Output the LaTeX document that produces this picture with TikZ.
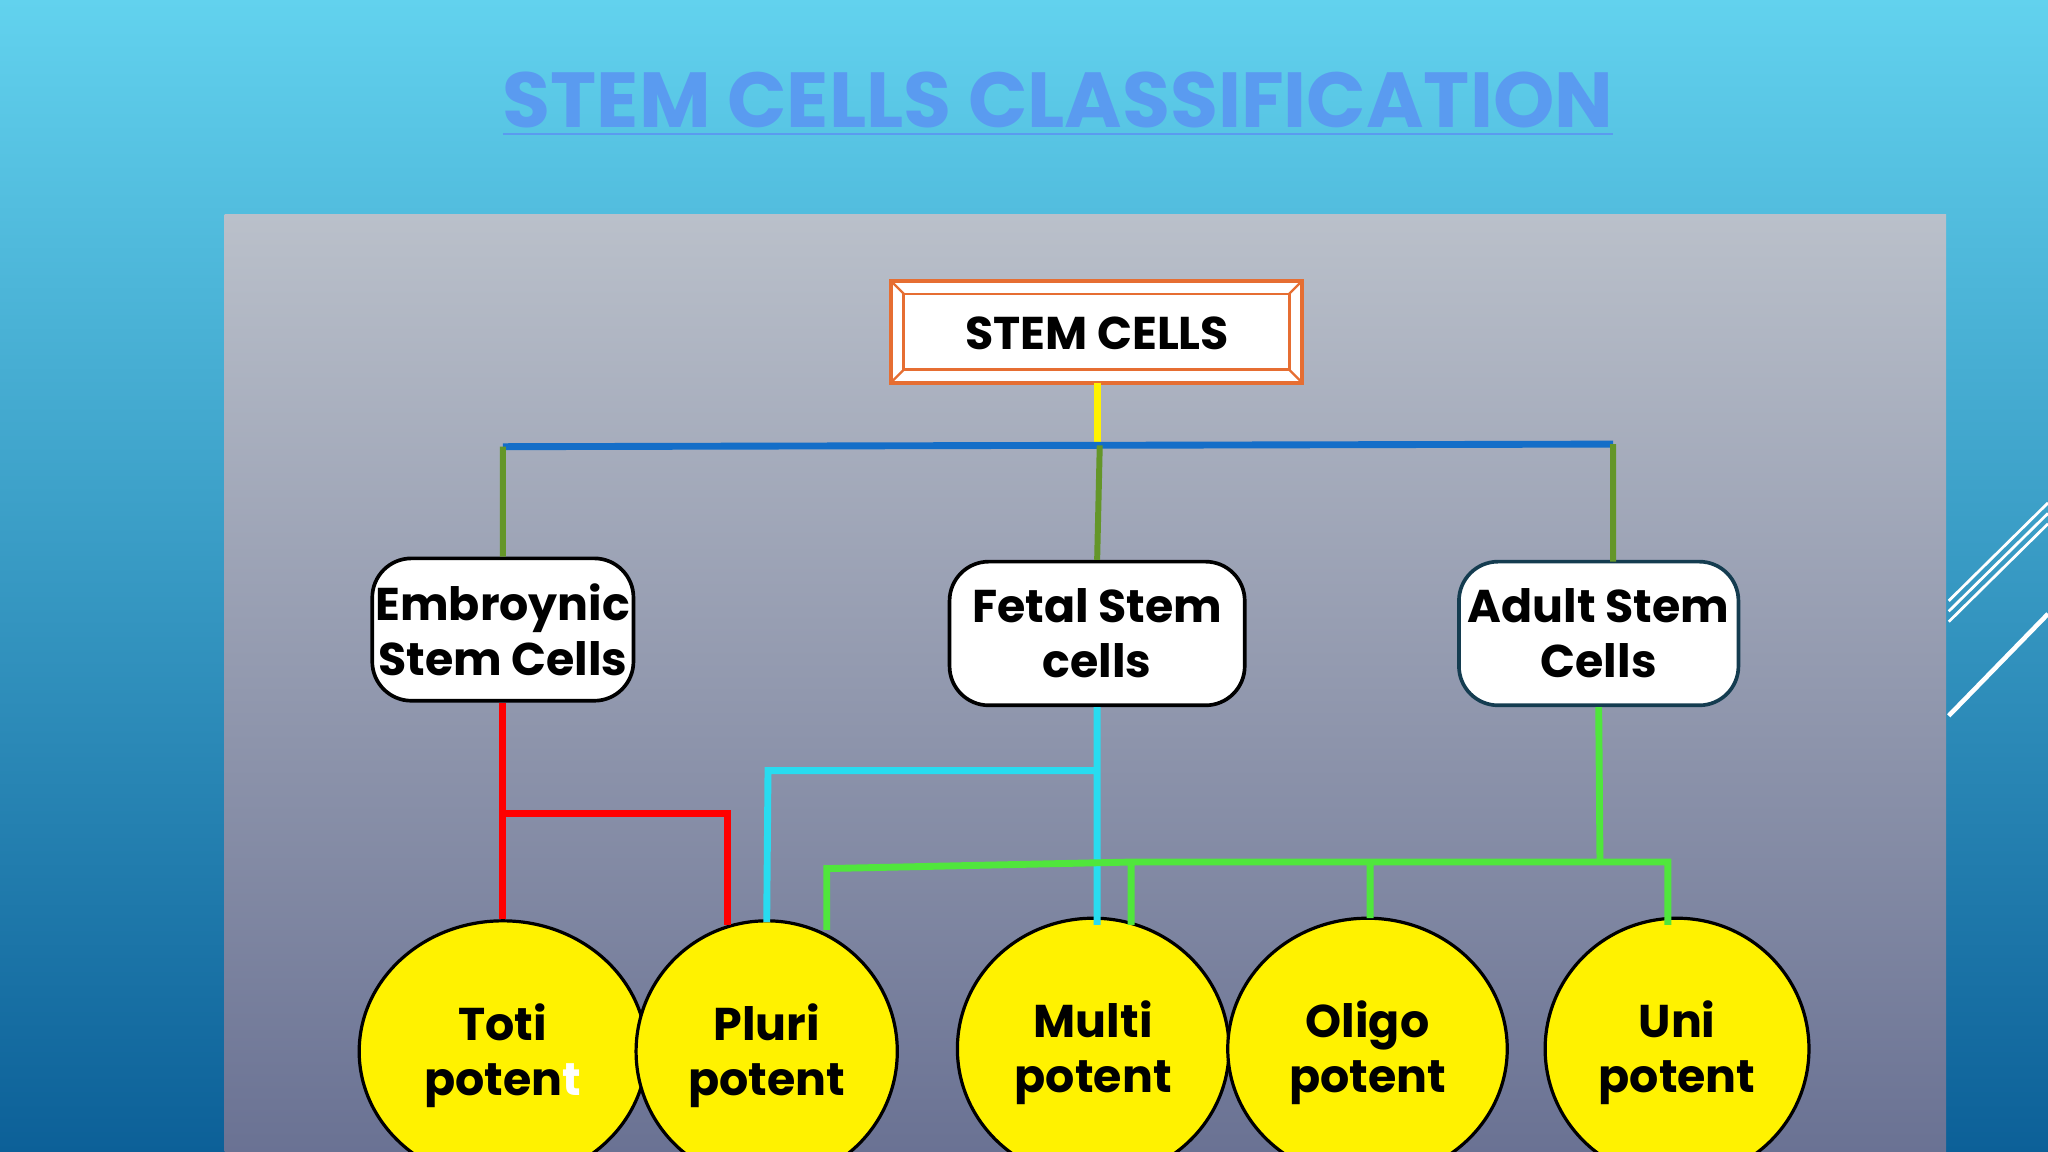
\documentclass[tikz,border=0pt]{standalone}
\usepackage{fontspec}
\setmainfont{Poppins}
\usetikzlibrary{shapes.geometric}
\definecolor{cblue}{RGB}{20,110,200}
\definecolor{colive}{RGB}{100,150,40}
\definecolor{ccyan}{RGB}{40,220,240}
\definecolor{cgreen}{RGB}{80,230,60}
\definecolor{corange}{RGB}{230,110,50}
\definecolor{ctitle}{RGB}{90,155,240}
\definecolor{cteal}{RGB}{20,60,80}
\begin{document}
\begin{tikzpicture}[x=0.1mm,y=-0.1mm,
  box/.style={draw=black,fill=white,rounded corners=3mm,line width=0.8pt,align=center,font=\fontsize{10}{12}\selectfont\bfseries,inner sep=0pt},
  cell/.style={draw=black,fill=yellow,line width=0.7pt},
  lab/.style={align=center,font=\fontsize{10}{12}\selectfont\bfseries}]
\useasboundingbox (0,0) rectangle (1568,882);
\clip (0,0) rectangle (1568,882);
\shade[top color={rgb,255:red,98;green,210;blue,238},bottom color={rgb,255:red,12;green,96;blue,152}] (0,0) rectangle (1568,882);
\foreach \d in {0,8,16}{\draw[white,line width=0.6pt] (1492,460+\d) -- (1568,385+\d);}
\draw[white,line width=1pt] (1492,548) -- (1568,470);
\node[font=\fontsize{17}{20}\selectfont\bfseries,text=ctitle] (title) at (810,80) {\underline{STEM CELLS CLASSIFICATION}};
\shade[top color={rgb,255:red,186;green,192;blue,202},bottom color={rgb,255:red,104;green,112;blue,146}] (172,164) rectangle (1490,900);
\draw[draw=corange,fill=white,line width=0.8pt] (682,215) rectangle (997,293);
\draw[draw=corange,line width=0.6pt] (692,225) rectangle (987,283);
\foreach \a/\b in {682/692,997/987}{\draw[draw=corange,line width=0.5pt] (\a,215)--(\b,225) (\a,293)--(\b,283);}
\node[lab] (stem) at (840,255) {STEM CELLS};
\coordinate (sb) at (840,293);
\node[box,minimum width=20mm,minimum height=10.9mm] (emb) at (385,482) {Embroynic\\Stem Cells};
\node[box,minimum width=22.6mm,minimum height=11mm] (fet) at (840,485) {Fetal Stem\\cells};
\node[box,draw=cteal,minimum width=21.4mm,minimum height=11mm] (adu) at (1224,485) {Adult Stem\\Cells};
\node[cell,ellipse,minimum width=22mm,minimum height=20mm,inner sep=0pt] (toti) at (385,805) {};
\node[cell,circle,minimum size=20mm,inner sep=0pt] (pluri) at (587,805) {};
\node[cell,ellipse,minimum width=20.8mm,minimum height=20mm,inner sep=0pt] (multi) at (837,803) {};
\node[cell,ellipse,minimum width=21.4mm,minimum height=20mm,inner sep=0pt] (oligo) at (1047,803) {};
\node[cell,ellipse,minimum width=20.2mm,minimum height=20mm,inner sep=0pt] (uni) at (1284,803) {};
\node[lab] at (385,808) {Toti\\poten\textcolor{white}{t}};
\node[lab] at (587,808) {Pluri\\potent};
\node[lab] at (837,806) {Multi\\potent};
\node[lab] at (1047,806) {Oligo\\potent};
\node[lab] at (1284,806) {Uni\\potent};
\coordinate (hb) at (840,341);
\draw[yellow,line width=1.5pt] (sb) -- (hb);
\draw[cblue,line width=1.5pt] (385,342) -- (1235,340);
\draw[colive,line width=1.3pt] (385,342) -- (emb.north) (842,341) -- (fet.north) (1235,340) -- (1235,430);
\draw[red,line width=1.5pt] (emb.south) -- (toti.north) (385,623) -| (557,708);
\draw[ccyan,line width=1.5pt] (fet.south) -- (840,708) (840,590) -- (588,590) -- (587,706);
\draw[cgreen,line width=1.5pt] (adu.south) -- (1225,660) (633,712) -- (633,665) -- (866,660) -- (1277,660) -- (1277,708) (866,660) -- (866,708) (1049,660) -- (1049,703);
\end{tikzpicture}
\end{document}
